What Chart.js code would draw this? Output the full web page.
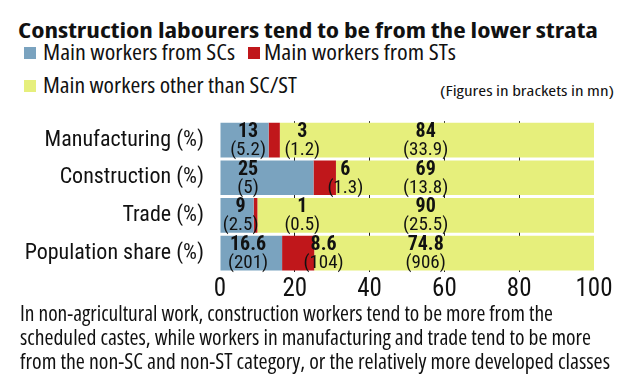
<!DOCTYPE html>
<html>
<head>
<meta charset="utf-8">
<script src="https://cdn.jsdelivr.net/npm/chart.js@4"></script>
<style>
  html, body { margin: 0; padding: 0; background: #fff; }
  body { width: 620px; height: 387px; position: relative; overflow: hidden;
         font-family: 'Open Sans', sans-serif; font-stretch: condensed; color: #111; }
  .t { position: absolute; white-space: nowrap; display: inline-block; transform-origin: 0 50%; }
  .title { font-size: 21px; line-height: 26px; font-weight: bold; }
  .legend { font-size: 21px; line-height: 24px; }
  .sw { position: absolute; width: 12px; height: 12px; }
  .note { font-size: 15px; line-height: 18px; }
  .foot { font-size: 21px; line-height: 24px; }
  #wrap { position: absolute; left: 0; top: 100px; width: 620px; height: 202px; }
</style>
</head>
<body>
<div class="t title" style="left:18px; top:17px;" data-w="580">Construction labourers tend to be from the lower strata</div>
<div class="sw" style="left:24px; top:47px; background:#7aa3bf"></div>
<div class="t legend" style="left:43px; top:40px;" data-w="192">Main workers from SCs</div>
<div class="sw" style="left:248px; top:47px; background:#c0171b"></div>
<div class="t legend" style="left:264px; top:40px;" data-w="192">Main workers from STs</div>
<div class="sw" style="left:24px; top:80px; background:#e6ef7c"></div>
<div class="t legend" style="left:43px; top:73px;" data-w="254">Main workers other than SC/ST</div>
<div class="t note" style="left:440px; top:81px;" data-w="174">(Figures in brackets in mn)</div>
<div id="wrap"><canvas id="chart"></canvas></div>
<div class="t foot" style="left:20px; top:301px;" data-w="533">In non-agricultural work, construction workers tend to be more from the</div>
<div class="t foot" style="left:20px; top:325px;" data-w="571">scheduled castes, while workers in manufacturing and trade tend to be more</div>
<div class="t foot" style="left:20px; top:349px;" data-w="590">from the non-SC and non-ST category, or the relatively more developed classes</div>

<script>
/* ── DATA ───────────────────────────── */
const categories = ['Manufacturing (%)', 'Construction (%)', 'Trade (%)', 'Population share (%)'];
const scShare    = [13, 25, 9, 16.6];
const stShare    = [3, 6, 1, 8.6];
const otherShare = [84, 69, 90, 74.8];
const scMn       = ['5.2', '5', '2.5', '201'];
const stMn       = ['1.2', '1.3', '0.5', '104'];
const otherMn    = ['33.9', '13.8', '25.5', '906'];
const xTicks     = [0, 20, 40, 60, 80, 100];

const FONT = "'Roboto Condensed', 'Open Sans', sans-serif";

/* ── squeeze html texts to the widths of the original ── */
document.querySelectorAll('.t[data-w]').forEach(el => {
    const w = el.getBoundingClientRect().width;
    el.style.transform = 'scaleX(' + (+el.dataset.w / w) + ')';
});

/* ── LABELS ─────────────────────────── */
const segLabels = {
    id: 'segLabels',
    afterDatasetsDraw(chart) {
        const ctx = chart.ctx;
        const x = chart.scales.x;
        const meta = chart.getDatasetMeta(0);
        ctx.save();
        ctx.fillStyle = '#111';
        ctx.textAlign = 'center';
        ctx.textBaseline = 'middle';
        categories.forEach((c, i) => {
            const yc = meta.data[i].y;
            const spots = [
                [Math.min(scShare[i] / 2 + 1, 7.5), scShare[i], scMn[i]],
                [Math.max(scShare[i] + stShare[i] + 2.5, 22), stShare[i], stMn[i]],
                [55, otherShare[i], otherMn[i]]
            ];
            spots.forEach(([v, val, mn]) => {
                const px = x.getPixelForValue(v);
                ctx.font = 'bold 20px ' + FONT;
                ctx.fillText(String(val), px, yc - 8);
                ctx.font = '19px ' + FONT;
                ctx.fillText('(' + mn + ')', px, yc + 10);
            });
        });
        ctx.restore();
    }
};

new Chart(document.getElementById('chart'), {
    type: 'bar',
    data: {
        labels: categories,
        datasets: [
            { label: 'Main workers from SCs', data: scShare, backgroundColor: '#7aa3bf' },
            { label: 'Main workers from STs', data: stShare, backgroundColor: '#c0171b' },
            { label: 'Main workers other than SC/ST', data: otherShare, backgroundColor: '#e6ef7c' }
        ]
    },
    options: {
        indexAxis: 'y',
        responsive: true,
        maintainAspectRatio: false,
        animation: false,
        layout: { padding: { left: 0, right: 26, top: 14, bottom: 0 } },
        datasets: { bar: { categoryPercentage: 1, barPercentage: 0.92 } },
        plugins: { legend: { display: false }, tooltip: { enabled: false } },
        scales: {
            x: {
                stacked: true, min: 0, max: 100,
                afterBuildTicks: s => { s.ticks = xTicks.map(v => ({ value: v })); },
                grid: {
                    drawTicks: false,
                    color: c => (c.tick && (c.tick.value === 0 || c.tick.value === 100)) ? 'rgba(0,0,0,0)' : '#222',
                    lineWidth: 1
                },
                border: { display: false },
                ticks: { color: '#111', font: { family: FONT, size: 25 }, padding: 3 },
                afterFit: s => { s.height = 30; }
            },
            y: {
                stacked: true,
                grid: { display: false },
                border: { display: false },
                ticks: { color: '#111', font: { family: FONT, size: 22 }, padding: 8 },
                afterFit: s => { s.width = 220; }
            }
        }
    },
    plugins: [segLabels]
});
</script>
</body>
</html>
